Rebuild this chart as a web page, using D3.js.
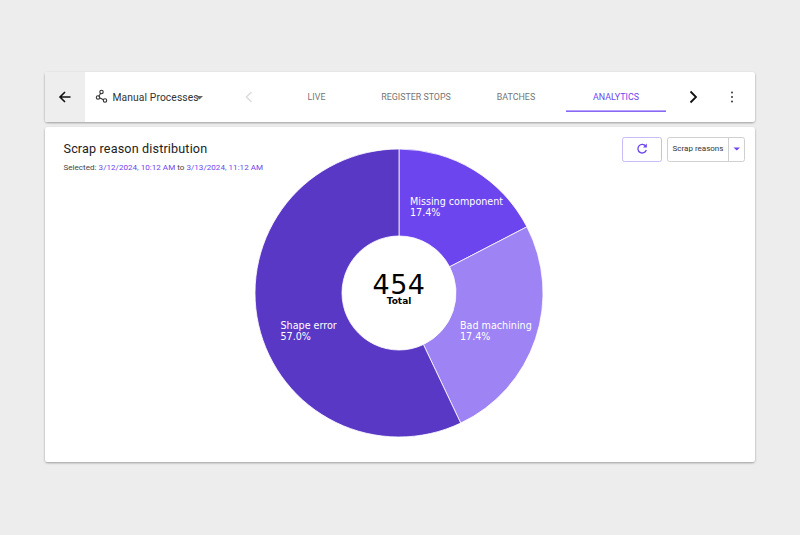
<!DOCTYPE html>
<html><head><meta charset="utf-8">
<style>html,body{margin:0;padding:0;background:#ededed}svg{display:block}text{font-family:Roboto,sans-serif}</style>
<script src="https://cdn.jsdelivr.net/npm/d3@7/dist/d3.min.js"></script></head>
<body><svg id="c" width="800" height="535"></svg>
<script>
const categories=["Missing component","Bad machining","Shape error"];
const counts=[79,116,259];
const labelPercents=["17.4%","17.4%","57.0%"];
const colors=["#6c45ef","#9d83f4","#5a38c6"];
const tabs=["LIVE","REGISTER STOPS","BATCHES","ANALYTICS"];
const total="454";
const svg=d3.select("#c");
const defs=svg.append("defs");
const f=defs.append("filter").attr("id","s").attr("x","-5%").attr("y","-10%").attr("width","110%").attr("height","125%");
f.append("feDropShadow").attr("dx",0).attr("dy",1).attr("stdDeviation",1).attr("flood-color","#000").attr("flood-opacity",.35);
const purple="#6c45ef";
// cards
svg.append("rect").attr("x",45).attr("y",72).attr("width",710).attr("height",50).attr("rx",3).attr("fill","#fff").attr("filter","url(#s)");
svg.append("path").attr("d","M48 72H85V122H48a3 3 0 0 1-3-3V75a3 3 0 0 1 3-3z").attr("fill","#eeeeee");
svg.append("rect").attr("x",45).attr("y",127).attr("width",710).attr("height",335).attr("rx",3).attr("fill","#fff").attr("filter","url(#s)");
// back arrow
svg.append("path").attr("d","M70.5 97H60.5M65 92L60 97L65 102").attr("fill","none").attr("stroke","#111").attr("stroke-width",1.6);
// process icon
const ic=svg.append("g").attr("fill","none").attr("stroke","#333").attr("stroke-width",1.1);
ic.append("path").attr("d","M101 93L98.5 96.5M100 98L104 100");
[[101.5,92],[98,97.5],[105,100.5]].forEach(p=>ic.append("circle").attr("cx",p[0]).attr("cy",p[1]).attr("r",1.7));
svg.append("text").attr("x",112.5).attr("y",100.5).attr("font-size",10.3).attr("fill","#333").attr("letter-spacing",.1).text("Manual Processes");
svg.append("path").attr("d","M196 96H203L199.5 99.5Z").attr("fill","#666");
svg.append("path").attr("d","M251.5 92L246.5 97L251.5 102").attr("fill","none").attr("stroke","#ddd").attr("stroke-width",1.6);
// tabs
const tabX=d3.scalePoint().domain(tabs).range([316,616]);
const tabPos={"LIVE":316.5,"REGISTER STOPS":416,"BATCHES":516,"ANALYTICS":616};
svg.selectAll("text.tab").data(tabs).join("text").attr("class","tab")
 .attr("x",d=>tabPos[d]).attr("y",100.3).attr("text-anchor","middle").attr("font-size",8.9)
 .attr("fill",d=>d==="ANALYTICS"?purple:"#757575").text(d=>d);
svg.append("rect").attr("x",566).attr("y",110.5).attr("width",100).attr("height",1.3).attr("fill",purple);
svg.append("path").attr("d","M690.5 91.5L696 97L690.5 102.5").attr("fill","none").attr("stroke","#111").attr("stroke-width",1.8);
[92.5,97,101.5].forEach(y=>svg.append("circle").attr("cx",732).attr("cy",y).attr("r",1.05).attr("fill","#444"));
// title
svg.append("text").attr("x",63.5).attr("y",153).attr("font-size",12.6).attr("fill","#222").attr("letter-spacing",.15).text("Scrap reason distribution");
const sel=svg.append("text").attr("x",63.5).attr("y",170).attr("font-size",8.1).attr("fill","#444");
sel.append("tspan").text("Selected: ");
sel.append("tspan").attr("fill",purple).text("3/12/2024, 10:12 AM");
sel.append("tspan").text(" to ");
sel.append("tspan").attr("fill",purple).text("3/13/2024, 11:12 AM");
// buttons
svg.append("rect").attr("x",622.5).attr("y",137.5).attr("width",39).attr("height",24).attr("rx",2).attr("fill","#fff").attr("stroke","#c9bbfa");
svg.append("path").attr("d","M645.7 146.2A4.3 4.3 0 1 0 646.3 150").attr("fill","none").attr("stroke",purple).attr("stroke-width",1.3);
svg.append("path").attr("d","M646.8 143.6V147.4H643Z").attr("fill",purple);
svg.append("rect").attr("x",667.5).attr("y",137.5).attr("width",77).attr("height",24).attr("rx",2).attr("fill","#fff").attr("stroke","#d0d0d0");
svg.append("line").attr("x1",728.5).attr("x2",728.5).attr("y1",137.5).attr("y2",161.5).attr("stroke","#d0d0d0");
svg.append("text").attr("x",698).attr("y",151.3).attr("text-anchor","middle").attr("font-size",8).attr("fill","#333").text("Scrap reasons");
svg.append("path").attr("d","M733.5 147.5H740L736.75 150.5Z").attr("fill",purple);
// donut
const cx=399,cy=293,R=144,r0=57;
const pie=d3.pie().sort(null).value(d=>d);
const arcs=pie(counts);
const arc=d3.arc().innerRadius(r0).outerRadius(R);
const g=svg.append("g").attr("transform",`translate(${cx},${cy})`);
g.selectAll("path").data(arcs).join("path").attr("d",arc).attr("fill",(d,i)=>colors[i]).attr("stroke","#fff").attr("stroke-width",.8);
const lab=[[11,-88],[61,36],[-118.5,36]];
const lg=g.selectAll("g.l").data(arcs).join("g").attr("class","l");
lg.append("text").attr("x",(d,i)=>lab[i][0]).attr("y",(d,i)=>lab[i][1]).attr("font-family","'DejaVu Sans'").style("font-family","'DejaVu Sans'").attr("font-size",9.6).attr("fill","#fff").text((d,i)=>categories[i]);
lg.append("text").attr("x",(d,i)=>lab[i][0]).attr("y",(d,i)=>lab[i][1]+11).style("font-family","'DejaVu Sans'").attr("font-size",9.6).attr("fill","#fff").text((d,i)=>labelPercents[i]);
g.append("text").attr("text-anchor","middle").attr("y",1).style("font-family","'DejaVu Sans'").attr("font-size",27).attr("letter-spacing",.5).attr("fill","#000").text(total);
g.append("text").attr("text-anchor","middle").attr("y",11).style("font-family","'DejaVu Sans'").attr("font-weight","bold").attr("font-size",9).attr("fill","#000").text("Total");
</script></body></html>
